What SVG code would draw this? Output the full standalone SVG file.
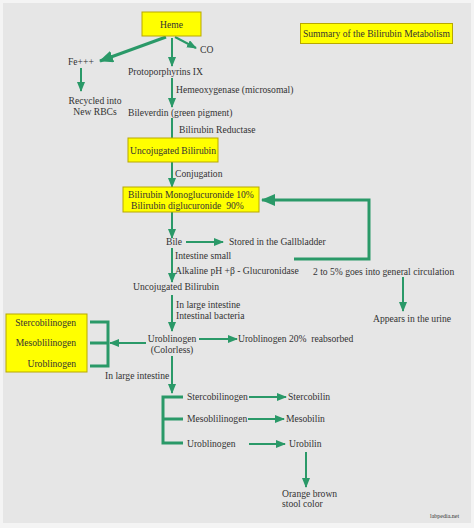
<svg xmlns="http://www.w3.org/2000/svg" width="474" height="528" viewBox="0 0 474 528">
<style>
text{font-family:"Liberation Serif","Times New Roman",serif;font-size:9.6px;fill:#333}
.box{fill:#ffff00;stroke:#b8a800;stroke-width:1}
.ln{stroke:#2a9968;stroke-width:2;fill:none}
.th{stroke:#2a9968;stroke-width:3;fill:none}
.a{marker-end:url(#ah)}
.ab{marker-end:url(#ahb)}
.c{text-anchor:middle}
.r{text-anchor:end}
</style>
<defs>
<marker id="ah" markerUnits="userSpaceOnUse" markerWidth="10" markerHeight="8" refX="9" refY="4" orient="auto"><path d="M0,0 L10,4 L0,8 Z" fill="#2a9968"/></marker>
<marker id="ahb" markerUnits="userSpaceOnUse" markerWidth="14" markerHeight="12" refX="13" refY="6" orient="auto"><path d="M0,0 L14,6 L0,12 Z" fill="#2a9968"/></marker>
</defs>
<rect x="0" y="0" width="474" height="528" fill="#f4f4f4"/>
<rect x="3" y="3" width="468" height="520" fill="#e6e6e6"/>

<g id="connectors">
<line class="th ab" x1="166" y1="37" x2="100" y2="61"/>
<line class="ln a" x1="175" y1="37" x2="196" y2="48"/>
<line class="ln a" x1="172" y1="38" x2="172" y2="66"/>
<line class="ln a" x1="81" y1="68" x2="81" y2="91"/>
<line class="ln a" x1="172" y1="78" x2="172" y2="107"/>
<line class="ln" x1="172" y1="118" x2="172" y2="138"/>
<line class="ln a" x1="172" y1="162" x2="172" y2="187"/>
<line class="ln a" x1="172" y1="212" x2="172" y2="238"/>
<line class="ln a" x1="186" y1="242" x2="223" y2="242"/>
<polyline class="th ab" points="294,259 369,259 369,200 262,200"/>
<line class="ln a" x1="172" y1="248" x2="172" y2="282"/>
<line class="ln a" x1="403" y1="277" x2="403" y2="311"/>
<line class="ln a" x1="172" y1="295" x2="172" y2="331"/>
<line class="ln a" x1="199" y1="339" x2="237" y2="339"/>
<polyline class="th" points="90,322 108,322 108,366 90,366"/>
<line class="th" x1="90" y1="343" x2="108" y2="343"/>
<line class="ln a" x1="146" y1="343" x2="110" y2="343"/>
<line class="ln a" x1="172" y1="356" x2="172" y2="393"/>
<polyline class="th" points="183,397 163,397 163,443 183,443"/>
<line class="th" x1="163" y1="419" x2="183" y2="419"/>
<line class="ln a" x1="249" y1="397" x2="286" y2="397"/>
<line class="ln a" x1="248" y1="419" x2="284" y2="419"/>
<line class="ln a" x1="249" y1="444" x2="285" y2="444"/>
<line class="ln a" x1="306" y1="452" x2="306" y2="487"/>
</g>

<g id="heme"><rect class="box" x="142" y="12" width="59" height="24"/><text class="c" x="171.5" y="28">Heme</text></g>
<g id="title"><rect class="box" x="300.5" y="23.5" width="152" height="20"/><text class="c" x="376.5" y="37">Summary of the Bilirubin Metabolism</text></g>
<g id="co"><text x="200" y="53">CO</text></g>
<g id="fe"><text x="68" y="65">Fe+++</text></g>
<g id="recycled"><text class="c" x="95" y="104">Recycled into</text><text class="c" x="95" y="115">New RBCs</text></g>
<g id="proto"><text x="128" y="75">Protoporphyrins IX</text></g>
<g id="hemeox"><text x="176" y="93">Hemeoxygenase (microsomal)</text></g>
<g id="bileverdin"><text x="128" y="116">Bileverdin (green pigment)</text></g>
<g id="reductase"><text x="179" y="133">Bilirubin Reductase</text></g>
<g id="uncoj1"><rect class="box" x="128" y="138" width="90" height="24"/><text class="c" x="173" y="154">Uncojugated Bilirubin</text></g>
<g id="conj"><text x="175" y="177">Conjugation</text></g>
<g id="glucuronide"><rect class="box" x="123" y="187" width="136" height="25"/><text x="128" y="198">Bilirubin Monoglucuronide 10%</text><text x="131" y="209" xml:space="preserve">Bilirubin diglucuronide  90%</text></g>
<g id="bile"><text x="166" y="245">Bile</text></g>
<g id="stored"><text x="229" y="245">Stored in the Gallbladder</text></g>
<g id="intestine"><text x="175" y="259">Intestine small</text><text x="175" y="274">Alkaline pH +β - Glucuronidase</text></g>
<g id="circulation"><text x="313" y="275">2 to 5% goes into general circulation</text></g>
<g id="urine"><text x="373" y="322">Appears in the urine</text></g>
<g id="uncoj2"><text x="133" y="290">Uncojugated Bilirubin</text></g>
<g id="largeint1"><text x="176" y="308">In large intestine</text><text x="176" y="319">Intestinal bacteria</text></g>
<g id="urob"><text class="c" x="172" y="342">Uroblinogen</text><text class="c" x="172" y="353">(Colorless)</text></g>
<g id="reabsorbed"><text x="238" y="342" xml:space="preserve">Uroblinogen 20%  reabsorbed</text></g>
<g id="leftbox"><rect class="box" x="6" y="314" width="81" height="58"/><text class="r" x="76" y="326">Stercobilinogen</text><text class="r" x="76" y="346">Mesoblilinogen</text><text class="r" x="76" y="367">Uroblinogen</text></g>
<g id="largeint2"><text x="105" y="379">In large intestine</text></g>
<g id="sterco"><text x="187" y="400">Stercobilinogen</text></g>
<g id="meso"><text x="187" y="422">Mesoblilinogen</text></g>
<g id="urob2"><text x="187" y="447">Uroblinogen</text></g>
<g id="stercobilin"><text x="288" y="400">Stercobilin</text></g>
<g id="mesobilin"><text x="286" y="422">Mesobilin</text></g>
<g id="urobilin"><text x="289" y="447">Urobilin</text></g>
<g id="stool"><text x="282" y="497">Orange brown</text><text x="282" y="507">stool color</text></g>
<g id="credit"><text x="430" y="518" style="font-size:6px">labpedia.net</text></g>
</svg>
